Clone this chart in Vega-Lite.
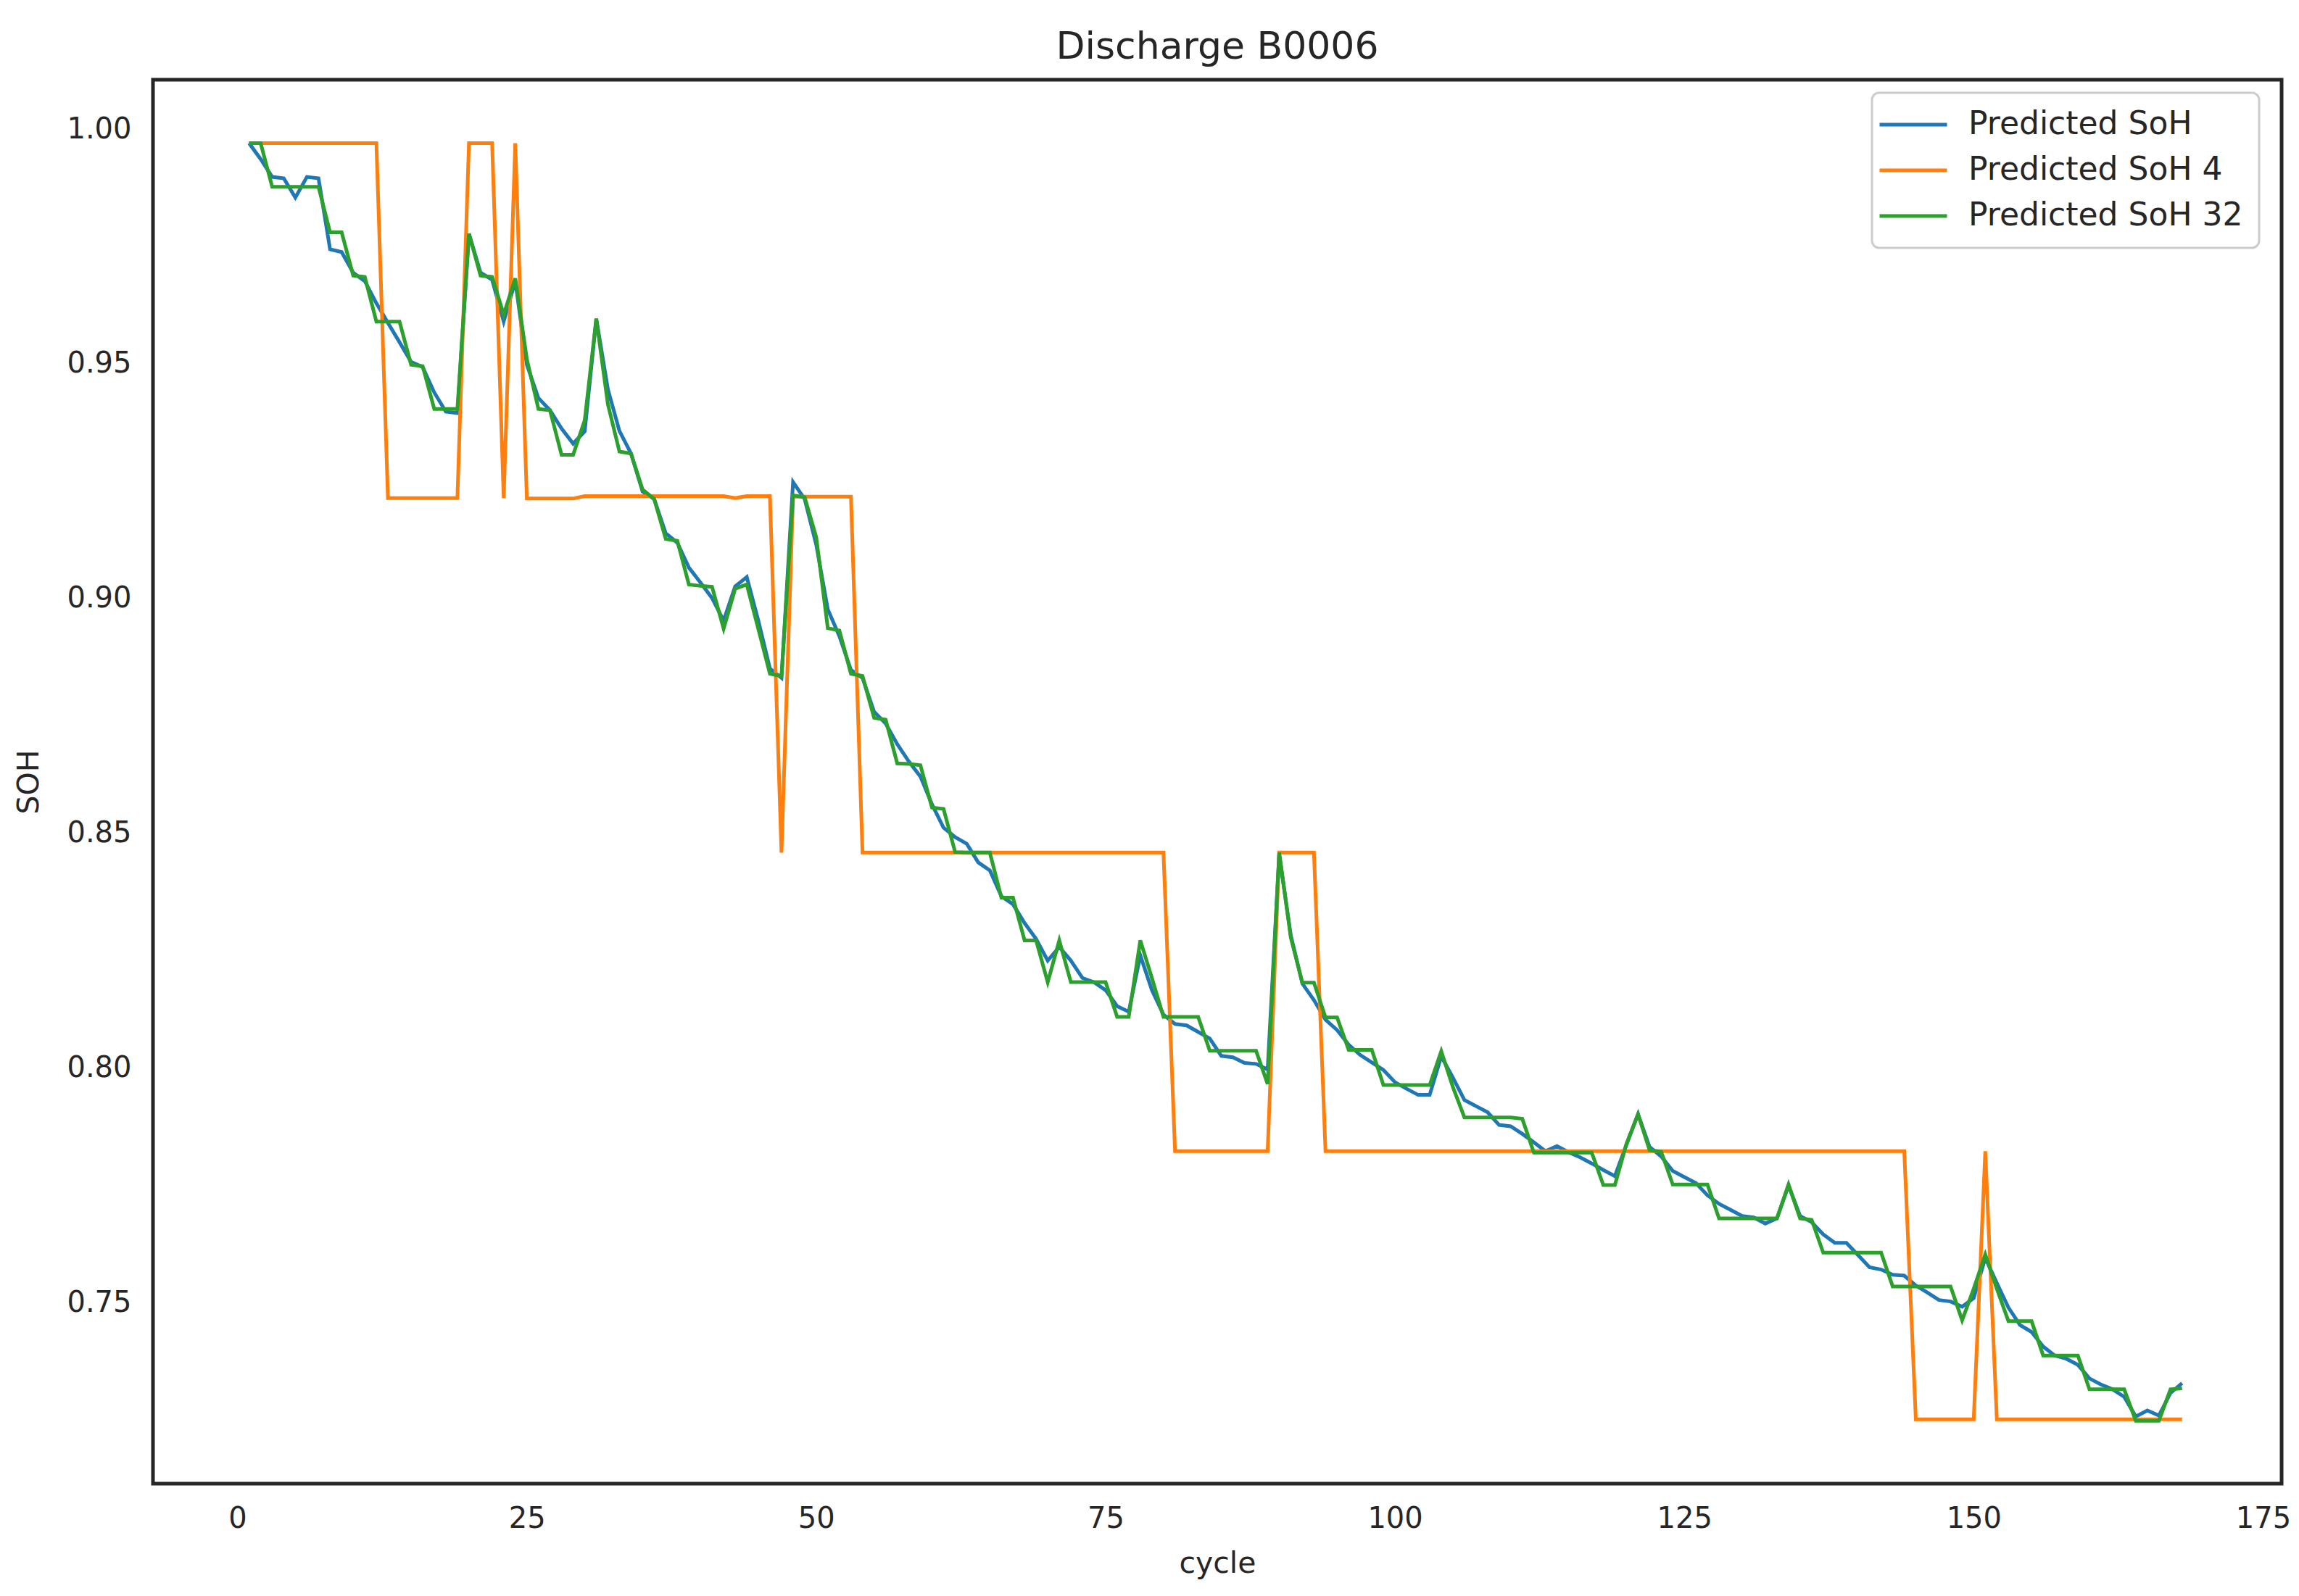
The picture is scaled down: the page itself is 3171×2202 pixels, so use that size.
{
  "$schema": "https://vega.github.io/schema/vega-lite/v6.json",
  "width": 2936,
  "height": 1937,
  "autosize": {"type": "none"},
  "padding": {"left": 211, "top": 110, "right": 24, "bottom": 155},
  "background": "white",
  "title": {"text": "Discharge B0006", "fontSize": 52, "font": "DejaVu Sans", "fontWeight": "normal", "color": "#262626", "offset": 18},
  "data": {"values": [
    {"cycle": 1, "Predicted SoH": 0.997, "Predicted SoH 4": 0.997, "Predicted SoH 32": 0.997},
    {"cycle": 2, "Predicted SoH": 0.9936, "Predicted SoH 4": 0.997, "Predicted SoH 32": 0.997},
    {"cycle": 3, "Predicted SoH": 0.9898, "Predicted SoH 4": 0.997, "Predicted SoH 32": 0.9877},
    {"cycle": 4, "Predicted SoH": 0.9895, "Predicted SoH 4": 0.997, "Predicted SoH 32": 0.9877},
    {"cycle": 5, "Predicted SoH": 0.9854, "Predicted SoH 4": 0.997, "Predicted SoH 32": 0.9877},
    {"cycle": 6, "Predicted SoH": 0.9898, "Predicted SoH 4": 0.997, "Predicted SoH 32": 0.9877},
    {"cycle": 7, "Predicted SoH": 0.9895, "Predicted SoH 4": 0.997, "Predicted SoH 32": 0.9877},
    {"cycle": 8, "Predicted SoH": 0.9744, "Predicted SoH 4": 0.997, "Predicted SoH 32": 0.978},
    {"cycle": 9, "Predicted SoH": 0.9738, "Predicted SoH 4": 0.997, "Predicted SoH 32": 0.978},
    {"cycle": 10, "Predicted SoH": 0.9694, "Predicted SoH 4": 0.997, "Predicted SoH 32": 0.9688},
    {"cycle": 11, "Predicted SoH": 0.9676, "Predicted SoH 4": 0.997, "Predicted SoH 32": 0.9685},
    {"cycle": 12, "Predicted SoH": 0.9629, "Predicted SoH 4": 0.997, "Predicted SoH 32": 0.959},
    {"cycle": 13, "Predicted SoH": 0.9587, "Predicted SoH 4": 0.9214, "Predicted SoH 32": 0.959},
    {"cycle": 14, "Predicted SoH": 0.9546, "Predicted SoH 4": 0.9214, "Predicted SoH 32": 0.959},
    {"cycle": 15, "Predicted SoH": 0.9504, "Predicted SoH 4": 0.9214, "Predicted SoH 32": 0.9498},
    {"cycle": 16, "Predicted SoH": 0.9493, "Predicted SoH 4": 0.9214, "Predicted SoH 32": 0.9495},
    {"cycle": 17, "Predicted SoH": 0.9439, "Predicted SoH 4": 0.9214, "Predicted SoH 32": 0.9404},
    {"cycle": 18, "Predicted SoH": 0.9398, "Predicted SoH 4": 0.9214, "Predicted SoH 32": 0.9404},
    {"cycle": 19, "Predicted SoH": 0.9395, "Predicted SoH 4": 0.9214, "Predicted SoH 32": 0.9404},
    {"cycle": 20, "Predicted SoH": 0.9777, "Predicted SoH 4": 0.997, "Predicted SoH 32": 0.9777},
    {"cycle": 21, "Predicted SoH": 0.9694, "Predicted SoH 4": 0.997, "Predicted SoH 32": 0.9688},
    {"cycle": 22, "Predicted SoH": 0.9679, "Predicted SoH 4": 0.997, "Predicted SoH 32": 0.9685},
    {"cycle": 23, "Predicted SoH": 0.959, "Predicted SoH 4": 0.9214, "Predicted SoH 32": 0.9605},
    {"cycle": 24, "Predicted SoH": 0.9676, "Predicted SoH 4": 0.997, "Predicted SoH 32": 0.9682},
    {"cycle": 25, "Predicted SoH": 0.9498, "Predicted SoH 4": 0.9213, "Predicted SoH 32": 0.951},
    {"cycle": 26, "Predicted SoH": 0.9427, "Predicted SoH 4": 0.9213, "Predicted SoH 32": 0.9404},
    {"cycle": 27, "Predicted SoH": 0.9401, "Predicted SoH 4": 0.9213, "Predicted SoH 32": 0.9401},
    {"cycle": 28, "Predicted SoH": 0.9362, "Predicted SoH 4": 0.9213, "Predicted SoH 32": 0.9306},
    {"cycle": 29, "Predicted SoH": 0.933, "Predicted SoH 4": 0.9213, "Predicted SoH 32": 0.9306},
    {"cycle": 30, "Predicted SoH": 0.9356, "Predicted SoH 4": 0.9218, "Predicted SoH 32": 0.938},
    {"cycle": 31, "Predicted SoH": 0.9596, "Predicted SoH 4": 0.9218, "Predicted SoH 32": 0.9596},
    {"cycle": 32, "Predicted SoH": 0.9446, "Predicted SoH 4": 0.9218, "Predicted SoH 32": 0.9414},
    {"cycle": 33, "Predicted SoH": 0.9357, "Predicted SoH 4": 0.9218, "Predicted SoH 32": 0.9313},
    {"cycle": 34, "Predicted SoH": 0.9309, "Predicted SoH 4": 0.9218, "Predicted SoH 32": 0.9309},
    {"cycle": 35, "Predicted SoH": 0.9228, "Predicted SoH 4": 0.9218, "Predicted SoH 32": 0.9232},
    {"cycle": 36, "Predicted SoH": 0.9212, "Predicted SoH 4": 0.9218, "Predicted SoH 32": 0.9212},
    {"cycle": 37, "Predicted SoH": 0.9139, "Predicted SoH 4": 0.9218, "Predicted SoH 32": 0.9127},
    {"cycle": 38, "Predicted SoH": 0.9119, "Predicted SoH 4": 0.9218, "Predicted SoH 32": 0.9123},
    {"cycle": 39, "Predicted SoH": 0.9066, "Predicted SoH 4": 0.9218, "Predicted SoH 32": 0.903},
    {"cycle": 40, "Predicted SoH": 0.9034, "Predicted SoH 4": 0.9218, "Predicted SoH 32": 0.9027},
    {"cycle": 41, "Predicted SoH": 0.9001, "Predicted SoH 4": 0.9218, "Predicted SoH 32": 0.9025},
    {"cycle": 42, "Predicted SoH": 0.8953, "Predicted SoH 4": 0.9218, "Predicted SoH 32": 0.8936},
    {"cycle": 43, "Predicted SoH": 0.9026, "Predicted SoH 4": 0.9214, "Predicted SoH 32": 0.9021},
    {"cycle": 44, "Predicted SoH": 0.9046, "Predicted SoH 4": 0.9218, "Predicted SoH 32": 0.903},
    {"cycle": 45, "Predicted SoH": 0.8953, "Predicted SoH 4": 0.9218, "Predicted SoH 32": 0.8935},
    {"cycle": 46, "Predicted SoH": 0.8851, "Predicted SoH 4": 0.9218, "Predicted SoH 32": 0.884},
    {"cycle": 47, "Predicted SoH": 0.8831, "Predicted SoH 4": 0.8459, "Predicted SoH 32": 0.8835},
    {"cycle": 48, "Predicted SoH": 0.9248, "Predicted SoH 4": 0.9217, "Predicted SoH 32": 0.922},
    {"cycle": 49, "Predicted SoH": 0.9212, "Predicted SoH 4": 0.9217, "Predicted SoH 32": 0.9216},
    {"cycle": 50, "Predicted SoH": 0.9115, "Predicted SoH 4": 0.9217, "Predicted SoH 32": 0.9131},
    {"cycle": 51, "Predicted SoH": 0.8977, "Predicted SoH 4": 0.9217, "Predicted SoH 32": 0.8937},
    {"cycle": 52, "Predicted SoH": 0.892, "Predicted SoH 4": 0.9217, "Predicted SoH 32": 0.8932},
    {"cycle": 53, "Predicted SoH": 0.8848, "Predicted SoH 4": 0.9217, "Predicted SoH 32": 0.884},
    {"cycle": 54, "Predicted SoH": 0.8831, "Predicted SoH 4": 0.8459, "Predicted SoH 32": 0.8835},
    {"cycle": 55, "Predicted SoH": 0.8759, "Predicted SoH 4": 0.8459, "Predicted SoH 32": 0.8746},
    {"cycle": 56, "Predicted SoH": 0.8734, "Predicted SoH 4": 0.8459, "Predicted SoH 32": 0.8742},
    {"cycle": 57, "Predicted SoH": 0.869, "Predicted SoH 4": 0.8459, "Predicted SoH 32": 0.8649},
    {"cycle": 58, "Predicted SoH": 0.8653, "Predicted SoH 4": 0.8459, "Predicted SoH 32": 0.8648},
    {"cycle": 59, "Predicted SoH": 0.8621, "Predicted SoH 4": 0.8459, "Predicted SoH 32": 0.8645},
    {"cycle": 60, "Predicted SoH": 0.8562, "Predicted SoH 4": 0.8459, "Predicted SoH 32": 0.8555},
    {"cycle": 61, "Predicted SoH": 0.8512, "Predicted SoH 4": 0.8459, "Predicted SoH 32": 0.8552},
    {"cycle": 62, "Predicted SoH": 0.8492, "Predicted SoH 4": 0.8459, "Predicted SoH 32": 0.846},
    {"cycle": 63, "Predicted SoH": 0.8478, "Predicted SoH 4": 0.8459, "Predicted SoH 32": 0.8459},
    {"cycle": 64, "Predicted SoH": 0.8438, "Predicted SoH 4": 0.8459, "Predicted SoH 32": 0.8459},
    {"cycle": 65, "Predicted SoH": 0.8421, "Predicted SoH 4": 0.8459, "Predicted SoH 32": 0.8459},
    {"cycle": 66, "Predicted SoH": 0.8366, "Predicted SoH 4": 0.8459, "Predicted SoH 32": 0.8363},
    {"cycle": 67, "Predicted SoH": 0.8349, "Predicted SoH 4": 0.8459, "Predicted SoH 32": 0.8363},
    {"cycle": 68, "Predicted SoH": 0.8309, "Predicted SoH 4": 0.8459, "Predicted SoH 32": 0.8272},
    {"cycle": 69, "Predicted SoH": 0.8275, "Predicted SoH 4": 0.8459, "Predicted SoH 32": 0.8272},
    {"cycle": 70, "Predicted SoH": 0.8229, "Predicted SoH 4": 0.8459, "Predicted SoH 32": 0.8183},
    {"cycle": 71, "Predicted SoH": 0.8258, "Predicted SoH 4": 0.8459, "Predicted SoH 32": 0.8272},
    {"cycle": 72, "Predicted SoH": 0.8229, "Predicted SoH 4": 0.8459, "Predicted SoH 32": 0.8183},
    {"cycle": 73, "Predicted SoH": 0.8192, "Predicted SoH 4": 0.8459, "Predicted SoH 32": 0.8183},
    {"cycle": 74, "Predicted SoH": 0.8183, "Predicted SoH 4": 0.8459, "Predicted SoH 32": 0.8183},
    {"cycle": 75, "Predicted SoH": 0.8166, "Predicted SoH 4": 0.8459, "Predicted SoH 32": 0.8183},
    {"cycle": 76, "Predicted SoH": 0.8132, "Predicted SoH 4": 0.8459, "Predicted SoH 32": 0.8109},
    {"cycle": 77, "Predicted SoH": 0.812, "Predicted SoH 4": 0.8459, "Predicted SoH 32": 0.8109},
    {"cycle": 78, "Predicted SoH": 0.824, "Predicted SoH 4": 0.8459, "Predicted SoH 32": 0.8272},
    {"cycle": 79, "Predicted SoH": 0.8166, "Predicted SoH 4": 0.8459, "Predicted SoH 32": 0.8192},
    {"cycle": 80, "Predicted SoH": 0.8114, "Predicted SoH 4": 0.8459, "Predicted SoH 32": 0.8109},
    {"cycle": 81, "Predicted SoH": 0.8094, "Predicted SoH 4": 0.7823, "Predicted SoH 32": 0.8109},
    {"cycle": 82, "Predicted SoH": 0.8091, "Predicted SoH 4": 0.7823, "Predicted SoH 32": 0.8109},
    {"cycle": 83, "Predicted SoH": 0.8077, "Predicted SoH 4": 0.7823, "Predicted SoH 32": 0.8109},
    {"cycle": 84, "Predicted SoH": 0.8063, "Predicted SoH 4": 0.7823, "Predicted SoH 32": 0.8037},
    {"cycle": 85, "Predicted SoH": 0.8026, "Predicted SoH 4": 0.7823, "Predicted SoH 32": 0.8037},
    {"cycle": 86, "Predicted SoH": 0.8023, "Predicted SoH 4": 0.7823, "Predicted SoH 32": 0.8037},
    {"cycle": 87, "Predicted SoH": 0.8011, "Predicted SoH 4": 0.7823, "Predicted SoH 32": 0.8037},
    {"cycle": 88, "Predicted SoH": 0.8009, "Predicted SoH 4": 0.7823, "Predicted SoH 32": 0.8037},
    {"cycle": 89, "Predicted SoH": 0.7997, "Predicted SoH 4": 0.7823, "Predicted SoH 32": 0.7966},
    {"cycle": 90, "Predicted SoH": 0.8455, "Predicted SoH 4": 0.8459, "Predicted SoH 32": 0.8459},
    {"cycle": 91, "Predicted SoH": 0.8283, "Predicted SoH 4": 0.8459, "Predicted SoH 32": 0.8278},
    {"cycle": 92, "Predicted SoH": 0.818, "Predicted SoH 4": 0.8459, "Predicted SoH 32": 0.8182},
    {"cycle": 93, "Predicted SoH": 0.8145, "Predicted SoH 4": 0.8459, "Predicted SoH 32": 0.8182},
    {"cycle": 94, "Predicted SoH": 0.8103, "Predicted SoH 4": 0.7823, "Predicted SoH 32": 0.8108},
    {"cycle": 95, "Predicted SoH": 0.8081, "Predicted SoH 4": 0.7823, "Predicted SoH 32": 0.8108},
    {"cycle": 96, "Predicted SoH": 0.805, "Predicted SoH 4": 0.7823, "Predicted SoH 32": 0.8039},
    {"cycle": 97, "Predicted SoH": 0.8028, "Predicted SoH 4": 0.7823, "Predicted SoH 32": 0.8039},
    {"cycle": 98, "Predicted SoH": 0.8012, "Predicted SoH 4": 0.7823, "Predicted SoH 32": 0.8039},
    {"cycle": 99, "Predicted SoH": 0.7996, "Predicted SoH 4": 0.7823, "Predicted SoH 32": 0.7964},
    {"cycle": 100, "Predicted SoH": 0.797, "Predicted SoH 4": 0.7823, "Predicted SoH 32": 0.7964},
    {"cycle": 101, "Predicted SoH": 0.7956, "Predicted SoH 4": 0.7823, "Predicted SoH 32": 0.7964},
    {"cycle": 102, "Predicted SoH": 0.7943, "Predicted SoH 4": 0.7823, "Predicted SoH 32": 0.7964},
    {"cycle": 103, "Predicted SoH": 0.7943, "Predicted SoH 4": 0.7823, "Predicted SoH 32": 0.7964},
    {"cycle": 104, "Predicted SoH": 0.8025, "Predicted SoH 4": 0.7823, "Predicted SoH 32": 0.8036},
    {"cycle": 105, "Predicted SoH": 0.798, "Predicted SoH 4": 0.7823, "Predicted SoH 32": 0.796},
    {"cycle": 106, "Predicted SoH": 0.7932, "Predicted SoH 4": 0.7823, "Predicted SoH 32": 0.7895},
    {"cycle": 107, "Predicted SoH": 0.7919, "Predicted SoH 4": 0.7823, "Predicted SoH 32": 0.7895},
    {"cycle": 108, "Predicted SoH": 0.7906, "Predicted SoH 4": 0.7823, "Predicted SoH 32": 0.7895},
    {"cycle": 109, "Predicted SoH": 0.7879, "Predicted SoH 4": 0.7823, "Predicted SoH 32": 0.7895},
    {"cycle": 110, "Predicted SoH": 0.7876, "Predicted SoH 4": 0.7823, "Predicted SoH 32": 0.7895},
    {"cycle": 111, "Predicted SoH": 0.786, "Predicted SoH 4": 0.7823, "Predicted SoH 32": 0.7892},
    {"cycle": 112, "Predicted SoH": 0.7842, "Predicted SoH 4": 0.7823, "Predicted SoH 32": 0.782},
    {"cycle": 113, "Predicted SoH": 0.7823, "Predicted SoH 4": 0.7823, "Predicted SoH 32": 0.782},
    {"cycle": 114, "Predicted SoH": 0.7834, "Predicted SoH 4": 0.7823, "Predicted SoH 32": 0.782},
    {"cycle": 115, "Predicted SoH": 0.7821, "Predicted SoH 4": 0.7823, "Predicted SoH 32": 0.782},
    {"cycle": 116, "Predicted SoH": 0.781, "Predicted SoH 4": 0.7823, "Predicted SoH 32": 0.782},
    {"cycle": 117, "Predicted SoH": 0.7797, "Predicted SoH 4": 0.7823, "Predicted SoH 32": 0.782},
    {"cycle": 118, "Predicted SoH": 0.7783, "Predicted SoH 4": 0.7823, "Predicted SoH 32": 0.7751},
    {"cycle": 119, "Predicted SoH": 0.777, "Predicted SoH 4": 0.7823, "Predicted SoH 32": 0.7751},
    {"cycle": 120, "Predicted SoH": 0.7837, "Predicted SoH 4": 0.7823, "Predicted SoH 32": 0.7839},
    {"cycle": 121, "Predicted SoH": 0.7902, "Predicted SoH 4": 0.7823, "Predicted SoH 32": 0.7902},
    {"cycle": 122, "Predicted SoH": 0.7832, "Predicted SoH 4": 0.7823, "Predicted SoH 32": 0.7825},
    {"cycle": 123, "Predicted SoH": 0.7812, "Predicted SoH 4": 0.7823, "Predicted SoH 32": 0.7822},
    {"cycle": 124, "Predicted SoH": 0.7781, "Predicted SoH 4": 0.7823, "Predicted SoH 32": 0.7752},
    {"cycle": 125, "Predicted SoH": 0.7768, "Predicted SoH 4": 0.7823, "Predicted SoH 32": 0.7752},
    {"cycle": 126, "Predicted SoH": 0.7755, "Predicted SoH 4": 0.7823, "Predicted SoH 32": 0.7752},
    {"cycle": 127, "Predicted SoH": 0.7729, "Predicted SoH 4": 0.7823, "Predicted SoH 32": 0.7752},
    {"cycle": 128, "Predicted SoH": 0.7711, "Predicted SoH 4": 0.7823, "Predicted SoH 32": 0.768},
    {"cycle": 129, "Predicted SoH": 0.7698, "Predicted SoH 4": 0.7823, "Predicted SoH 32": 0.768},
    {"cycle": 130, "Predicted SoH": 0.7685, "Predicted SoH 4": 0.7823, "Predicted SoH 32": 0.768},
    {"cycle": 131, "Predicted SoH": 0.7682, "Predicted SoH 4": 0.7823, "Predicted SoH 32": 0.768},
    {"cycle": 132, "Predicted SoH": 0.7669, "Predicted SoH 4": 0.7823, "Predicted SoH 32": 0.768},
    {"cycle": 133, "Predicted SoH": 0.768, "Predicted SoH 4": 0.7823, "Predicted SoH 32": 0.768},
    {"cycle": 134, "Predicted SoH": 0.775, "Predicted SoH 4": 0.7823, "Predicted SoH 32": 0.7752},
    {"cycle": 135, "Predicted SoH": 0.7685, "Predicted SoH 4": 0.7823, "Predicted SoH 32": 0.768},
    {"cycle": 136, "Predicted SoH": 0.7672, "Predicted SoH 4": 0.7823, "Predicted SoH 32": 0.7677},
    {"cycle": 137, "Predicted SoH": 0.7646, "Predicted SoH 4": 0.7823, "Predicted SoH 32": 0.7607},
    {"cycle": 138, "Predicted SoH": 0.7628, "Predicted SoH 4": 0.7823, "Predicted SoH 32": 0.7607},
    {"cycle": 139, "Predicted SoH": 0.7628, "Predicted SoH 4": 0.7823, "Predicted SoH 32": 0.7607},
    {"cycle": 140, "Predicted SoH": 0.7602, "Predicted SoH 4": 0.7823, "Predicted SoH 32": 0.7607},
    {"cycle": 141, "Predicted SoH": 0.7576, "Predicted SoH 4": 0.7823, "Predicted SoH 32": 0.7607},
    {"cycle": 142, "Predicted SoH": 0.7571, "Predicted SoH 4": 0.7823, "Predicted SoH 32": 0.7607},
    {"cycle": 143, "Predicted SoH": 0.756, "Predicted SoH 4": 0.7823, "Predicted SoH 32": 0.7535},
    {"cycle": 144, "Predicted SoH": 0.7558, "Predicted SoH 4": 0.7823, "Predicted SoH 32": 0.7535},
    {"cycle": 145, "Predicted SoH": 0.7537, "Predicted SoH 4": 0.7252, "Predicted SoH 32": 0.7535},
    {"cycle": 146, "Predicted SoH": 0.7522, "Predicted SoH 4": 0.7252, "Predicted SoH 32": 0.7535},
    {"cycle": 147, "Predicted SoH": 0.7506, "Predicted SoH 4": 0.7252, "Predicted SoH 32": 0.7535},
    {"cycle": 148, "Predicted SoH": 0.7503, "Predicted SoH 4": 0.7252, "Predicted SoH 32": 0.7535},
    {"cycle": 149, "Predicted SoH": 0.7492, "Predicted SoH 4": 0.7252, "Predicted SoH 32": 0.7463},
    {"cycle": 150, "Predicted SoH": 0.751, "Predicted SoH 4": 0.7252, "Predicted SoH 32": 0.753},
    {"cycle": 151, "Predicted SoH": 0.7596, "Predicted SoH 4": 0.7823, "Predicted SoH 32": 0.7603},
    {"cycle": 152, "Predicted SoH": 0.7542, "Predicted SoH 4": 0.7252, "Predicted SoH 32": 0.753},
    {"cycle": 153, "Predicted SoH": 0.749, "Predicted SoH 4": 0.7252, "Predicted SoH 32": 0.7461},
    {"cycle": 154, "Predicted SoH": 0.7453, "Predicted SoH 4": 0.7252, "Predicted SoH 32": 0.7461},
    {"cycle": 155, "Predicted SoH": 0.7438, "Predicted SoH 4": 0.7252, "Predicted SoH 32": 0.7461},
    {"cycle": 156, "Predicted SoH": 0.7407, "Predicted SoH 4": 0.7252, "Predicted SoH 32": 0.7388},
    {"cycle": 157, "Predicted SoH": 0.7388, "Predicted SoH 4": 0.7252, "Predicted SoH 32": 0.7388},
    {"cycle": 158, "Predicted SoH": 0.7381, "Predicted SoH 4": 0.7252, "Predicted SoH 32": 0.7388},
    {"cycle": 159, "Predicted SoH": 0.7368, "Predicted SoH 4": 0.7252, "Predicted SoH 32": 0.7388},
    {"cycle": 160, "Predicted SoH": 0.7339, "Predicted SoH 4": 0.7252, "Predicted SoH 32": 0.7316},
    {"cycle": 161, "Predicted SoH": 0.7326, "Predicted SoH 4": 0.7252, "Predicted SoH 32": 0.7316},
    {"cycle": 162, "Predicted SoH": 0.7316, "Predicted SoH 4": 0.7252, "Predicted SoH 32": 0.7316},
    {"cycle": 163, "Predicted SoH": 0.73, "Predicted SoH 4": 0.7252, "Predicted SoH 32": 0.7316},
    {"cycle": 164, "Predicted SoH": 0.7258, "Predicted SoH 4": 0.7252, "Predicted SoH 32": 0.7249},
    {"cycle": 165, "Predicted SoH": 0.7271, "Predicted SoH 4": 0.7252, "Predicted SoH 32": 0.7249},
    {"cycle": 166, "Predicted SoH": 0.726, "Predicted SoH 4": 0.7252, "Predicted SoH 32": 0.7249},
    {"cycle": 167, "Predicted SoH": 0.7308, "Predicted SoH 4": 0.7252, "Predicted SoH 32": 0.7316},
    {"cycle": 168, "Predicted SoH": 0.7329, "Predicted SoH 4": 0.7252, "Predicted SoH 32": 0.7318}
  ]},
  "transform": [
    {"fold": ["Predicted SoH", "Predicted SoH 4", "Predicted SoH 32"], "as": ["series", "soh"]}
  ],
  "mark": {"type": "line", "strokeWidth": 5, "clip": true},
  "encoding": {
    "x": {
      "field": "cycle", "type": "quantitative", "title": "cycle",
      "scale": {"domain": [-7.3, 176.6], "nice": false, "zero": false},
      "axis": {"values": [0, 25, 50, 75, 100, 125, 150, 175], "labelPadding": 28, "titlePadding": 22}
    },
    "y": {
      "field": "soh", "type": "quantitative", "title": "SOH",
      "scale": {"domain": [0.7115, 1.0105], "nice": false, "zero": false},
      "axis": {"values": [0.75, 0.8, 0.85, 0.9, 0.95, 1.0], "format": ".2f", "labelPadding": 30, "titlePadding": 30}
    },
    "color": {
      "field": "series", "type": "nominal",
      "scale": {"domain": ["Predicted SoH", "Predicted SoH 4", "Predicted SoH 32"], "range": ["#1f77b4", "#ff7f0e", "#2ca02c"]},
      "legend": {"title": null, "orient": "none", "legendX": 2371, "legendY": 18}
    }
  },
  "config": {
    "view": {"stroke": "#262626", "strokeWidth": 5},
    "axis": {
      "grid": false, "ticks": false, "domain": false,
      "labelFont": "DejaVu Sans", "labelFontSize": 40, "labelColor": "#262626",
      "titleFont": "DejaVu Sans", "titleFontSize": 41, "titleFontWeight": "normal", "titleColor": "#262626"
    },
    "legend": {
      "symbolType": "M-3,0H3", "symbolSize": 961, "symbolStrokeWidth": 5, "symbolOffset": 13,
      "labelFont": "DejaVu Sans", "labelFontSize": 44, "labelColor": "#262626", "labelOffset": 54, "labelLimit": 600,
      "strokeColor": "#cccccc", "strokeWidth": 3, "fillColor": "white", "cornerRadius": 10,
      "padding": 22, "rowPadding": 19
    }
  }
}
